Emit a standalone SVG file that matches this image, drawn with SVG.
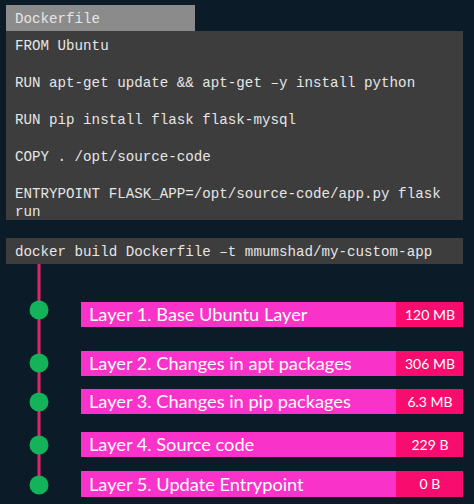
<svg xmlns="http://www.w3.org/2000/svg" width="474" height="504" viewBox="0 0 474 504">
<style>
.code{font-family:"Liberation Mono","DejaVu Sans Mono",monospace;font-size:14.2px;fill:#e6e6e6}
.bar{fill:#f932c9}
.size{fill:#f80d6e}
.lt{font-family:Lato,"Liberation Sans",sans-serif;font-size:18.2px;fill:#ffffff}
.st{font-family:Lato,"Liberation Sans",sans-serif;font-size:14px;fill:#ffffff;text-anchor:middle}
.dot{fill:#14b35a}
</style>
<rect width="474" height="504" fill="#0b1c28"/>
<g id="dockerfile">
<rect x="6" y="5" width="189" height="26" fill="#8b8b8b"/>
<text class="code" x="15" y="23">Dockerfile</text>
<rect x="6" y="31" width="457" height="189" fill="#3d3d3d"/>
<text class="code" x="15" y="50">FROM Ubuntu</text>
<text class="code" x="15" y="87">RUN apt-get update &amp;&amp; apt-get –y install python</text>
<text class="code" x="15" y="124">RUN pip install flask flask-mysql</text>
<text class="code" x="15" y="161">COPY . /opt/source-code</text>
<text class="code" x="15" y="198">ENTRYPOINT FLASK_APP=/opt/source-code/app.py flask</text>
<text class="code" x="15" y="216">run</text>
</g>
<g id="build">
<rect x="6" y="238" width="457" height="26" fill="#3d3d3d"/>
<text class="code" x="15" y="256">docker build Dockerfile –t mmumshad/my-custom-app</text>
</g>
<g id="connectors">
<line x1="39" y1="264" x2="39" y2="486" stroke="#e3236a" stroke-width="3"/>
</g>
<g id="layer1">
<circle class="dot" cx="39" cy="310" r="9.5"/>
<rect class="bar" x="81" y="302" width="315" height="25"/>
<rect class="size" x="396" y="302" width="67" height="25"/>
<text class="lt" x="89" y="321">Layer 1. Base Ubuntu Layer</text>
<text class="st" x="430" y="319.5">120 MB</text>
</g>
<g id="layer2">
<circle class="dot" cx="39" cy="363" r="9.5"/>
<rect class="bar" x="81" y="351" width="315" height="25"/>
<rect class="size" x="396" y="351" width="67" height="25"/>
<text class="lt" x="89" y="370">Layer 2. Changes in apt packages</text>
<text class="st" x="430" y="368.5">306 MB</text>
</g>
<g id="layer3">
<circle class="dot" cx="39" cy="402" r="9.5"/>
<rect class="bar" x="81" y="389" width="315" height="25"/>
<rect class="size" x="396" y="389" width="67" height="25"/>
<text class="lt" x="89" y="408">Layer 3. Changes in pip packages</text>
<text class="st" x="430" y="406.5">6.3 MB</text>
</g>
<g id="layer4">
<circle class="dot" cx="39" cy="445" r="9.5"/>
<rect class="bar" x="81" y="432" width="315" height="25"/>
<rect class="size" x="396" y="432" width="67" height="25"/>
<text class="lt" x="89" y="451">Layer 4. Source code</text>
<text class="st" x="430" y="449.5">229 B</text>
</g>
<g id="layer5">
<circle class="dot" cx="39" cy="485" r="9.5"/>
<rect class="bar" x="81" y="471" width="315" height="26"/>
<rect class="size" x="396" y="471" width="67" height="26"/>
<text class="lt" x="89" y="491">Layer 5. Update Entrypoint</text>
<text class="st" x="430" y="489">0 B</text>
</g>
</svg>
